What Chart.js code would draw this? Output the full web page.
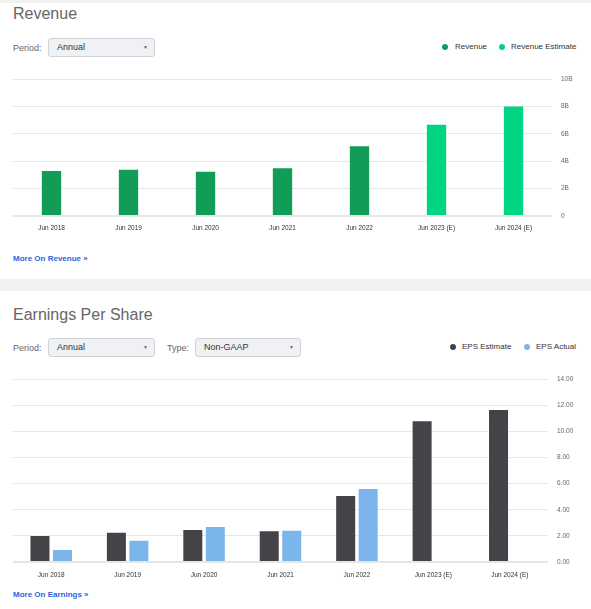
<!DOCTYPE html>
<html>
<head>
<meta charset="utf-8">
<script src="https://cdn.jsdelivr.net/npm/chart.js@4.4.0/dist/chart.umd.min.js"></script>
<style>
  html, body { margin:0; padding:0; background:#fff; }
  body { width:591px; height:609px; position:relative; overflow:hidden; font-family:"Liberation Sans", Arial, sans-serif; }
  .abs { position:absolute; white-space:nowrap; }
  .band { position:absolute; left:0; width:591px; background:#f3f1f0; }
  .title { font-size:16px; line-height:16px; color:#666; }
  .lbl { font-size:9px; line-height:12px; color:#666; }
  .sel { position:absolute; height:17px; background:#eff1f5; border:1px solid #cfd3d8; border-radius:3px; box-sizing:content-box; }
  .sel span.t { position:absolute; left:8px; top:0; font-size:9px; line-height:17px; color:#333; }
  .sel span.a { position:absolute; right:6px; top:0; font-size:5px; line-height:17px; color:#666; }
  .dot { position:absolute; width:6px; height:6px; border-radius:50%; }
  .leg { font-size:8px; line-height:10px; color:#333; }
  .more { font-size:8px; line-height:10px; color:#2f63d8; font-weight:bold; }
  canvas { position:absolute; left:0; }
</style>
</head>
<body>
<div class="band" style="top:0;height:3px;"></div>
<div class="band" style="top:279px;height:12px;"></div>

<!-- Revenue header -->
<div class="abs title" style="left:13px;top:6px;">Revenue</div>
<div class="abs lbl" style="left:13px;top:42px;">Period:</div>
<div class="sel" style="left:48px;top:38px;width:105px;"><span class="t">Annual</span><span class="a">▼</span></div>
<div class="dot" style="left:442px;top:44px;background:#119d57;"></div>
<div class="abs leg" style="left:455px;top:42px;">Revenue</div>
<div class="dot" style="left:499px;top:44px;background:#00d682;"></div>
<div class="abs leg" style="left:511px;top:42px;">Revenue Estimate</div>
<canvas id="rev" width="591" height="180" style="top:65px;width:591px;height:180px;"></canvas>
<div class="abs more" style="left:13px;top:254px;">More On Revenue »</div>

<!-- EPS header -->
<div class="abs title" style="left:13px;top:307px;">Earnings Per Share</div>
<div class="abs lbl" style="left:13px;top:342px;">Period:</div>
<div class="sel" style="left:48px;top:338px;width:105px;"><span class="t">Annual</span><span class="a">▼</span></div>
<div class="abs lbl" style="left:167px;top:342px;">Type:</div>
<div class="sel" style="left:195px;top:338px;width:104px;"><span class="t">Non-GAAP</span><span class="a">▼</span></div>
<div class="dot" style="left:450px;top:344px;background:#434348;"></div>
<div class="abs leg" style="left:462px;top:342px;">EPS Estimate</div>
<div class="dot" style="left:524px;top:344px;background:#7cb5ec;"></div>
<div class="abs leg" style="left:536px;top:342px;">EPS Actual</div>
<canvas id="eps" width="591" height="225" style="top:365px;width:591px;height:225px;"></canvas>
<div class="abs more" style="left:13px;top:590px;">More On Earnings »</div>

<script>
// ---- data ----
const categories = ['Jun 2018','Jun 2019','Jun 2020','Jun 2021','Jun 2022','Jun 2023 (E)','Jun 2024 (E)'];
const revenueActual   = [3.35, 3.44, 3.30, 3.55, 5.16, null, null];
const revenueEstimate = [null, null, null, null, null, 6.74, 8.06];
const revenueTickLabels = ['0','2B','4B','6B','8B','10B'];
const epsEstimate = [2.07, 2.32, 2.52, 2.42, 5.13, 10.84, 11.71];
const epsActual   = [0.99, 1.71, 2.75, 2.47, 5.66, null, null];
const epsTickLabels = ['0.00','2.00','4.00','6.00','8.00','10.00','12.00','14.00'];

Chart.defaults.font.family = '"Liberation Sans", Arial, sans-serif';
Chart.defaults.animation = false;

function makeOptions(maxVal, tickLabels, pad, xPad) {
  return {
    responsive: false,
    animation: false,
    layout: { padding: pad },
    plugins: { legend: { display:false }, tooltip: { enabled:false } },
    scales: {
      x: {
        grid: { display:false, drawTicks:false },
        border: { display:false },
        ticks: { color:'#333', font:{ size:6.5 }, padding:xPad, maxRotation:0, autoSkip:false },
        afterFit: s => { s.height = 20; }
      },
      y: {
        position: 'right',
        min: 0, max: maxVal,
        ticks: { stepSize: 2, color:'#666', font:{ size:6.5 }, padding:9,
                 callback: (v, i) => tickLabels[i] },
        grid: { color:'#e6e6e6', drawTicks:false,
                lineWidth: c => (c.tick && c.tick.value === 0) ? 2 : 1 },
        border: { display:false },
        afterFit: s => { s.width = 30; }
      }
    }
  };
}

const revOpts = makeOptions(10, revenueTickLabels, {left:13, top:14, right:9, bottom:9}, 8);
new Chart(document.getElementById('rev'), {
  type: 'bar',
  data: {
    labels: categories,
    datasets: [
      { label:'Revenue', data: revenueActual, backgroundColor:'#119d57',
        borderColor:'rgba(255,255,255,0.35)', borderWidth:1,
        grouped:false, categoryPercentage:1, barPercentage:0.277 },
      { label:'Revenue Estimate', data: revenueEstimate, backgroundColor:'#00d682',
        borderColor:'rgba(255,255,255,0.35)', borderWidth:1,
        grouped:false, categoryPercentage:1, barPercentage:0.277 }
    ]
  },
  options: revOpts
});

const epsOpts = makeOptions(14, epsTickLabels, {left:13, top:14, right:13, bottom:8}, 9);
new Chart(document.getElementById('eps'), {
  type: 'bar',
  data: {
    labels: categories,
    datasets: [
      { label:'EPS Estimate', data: epsEstimate, backgroundColor:'#434348',
        borderColor:'rgba(255,255,255,0.35)', borderWidth:1,
        categoryPercentage:0.589, barPercentage:0.933 },
      { label:'EPS Actual', data: epsActual, backgroundColor:'#7cb5ec',
        borderColor:'rgba(255,255,255,0.35)', borderWidth:1,
        categoryPercentage:0.589, barPercentage:0.933 }
    ]
  },
  options: epsOpts
});
</script>
</body>
</html>
